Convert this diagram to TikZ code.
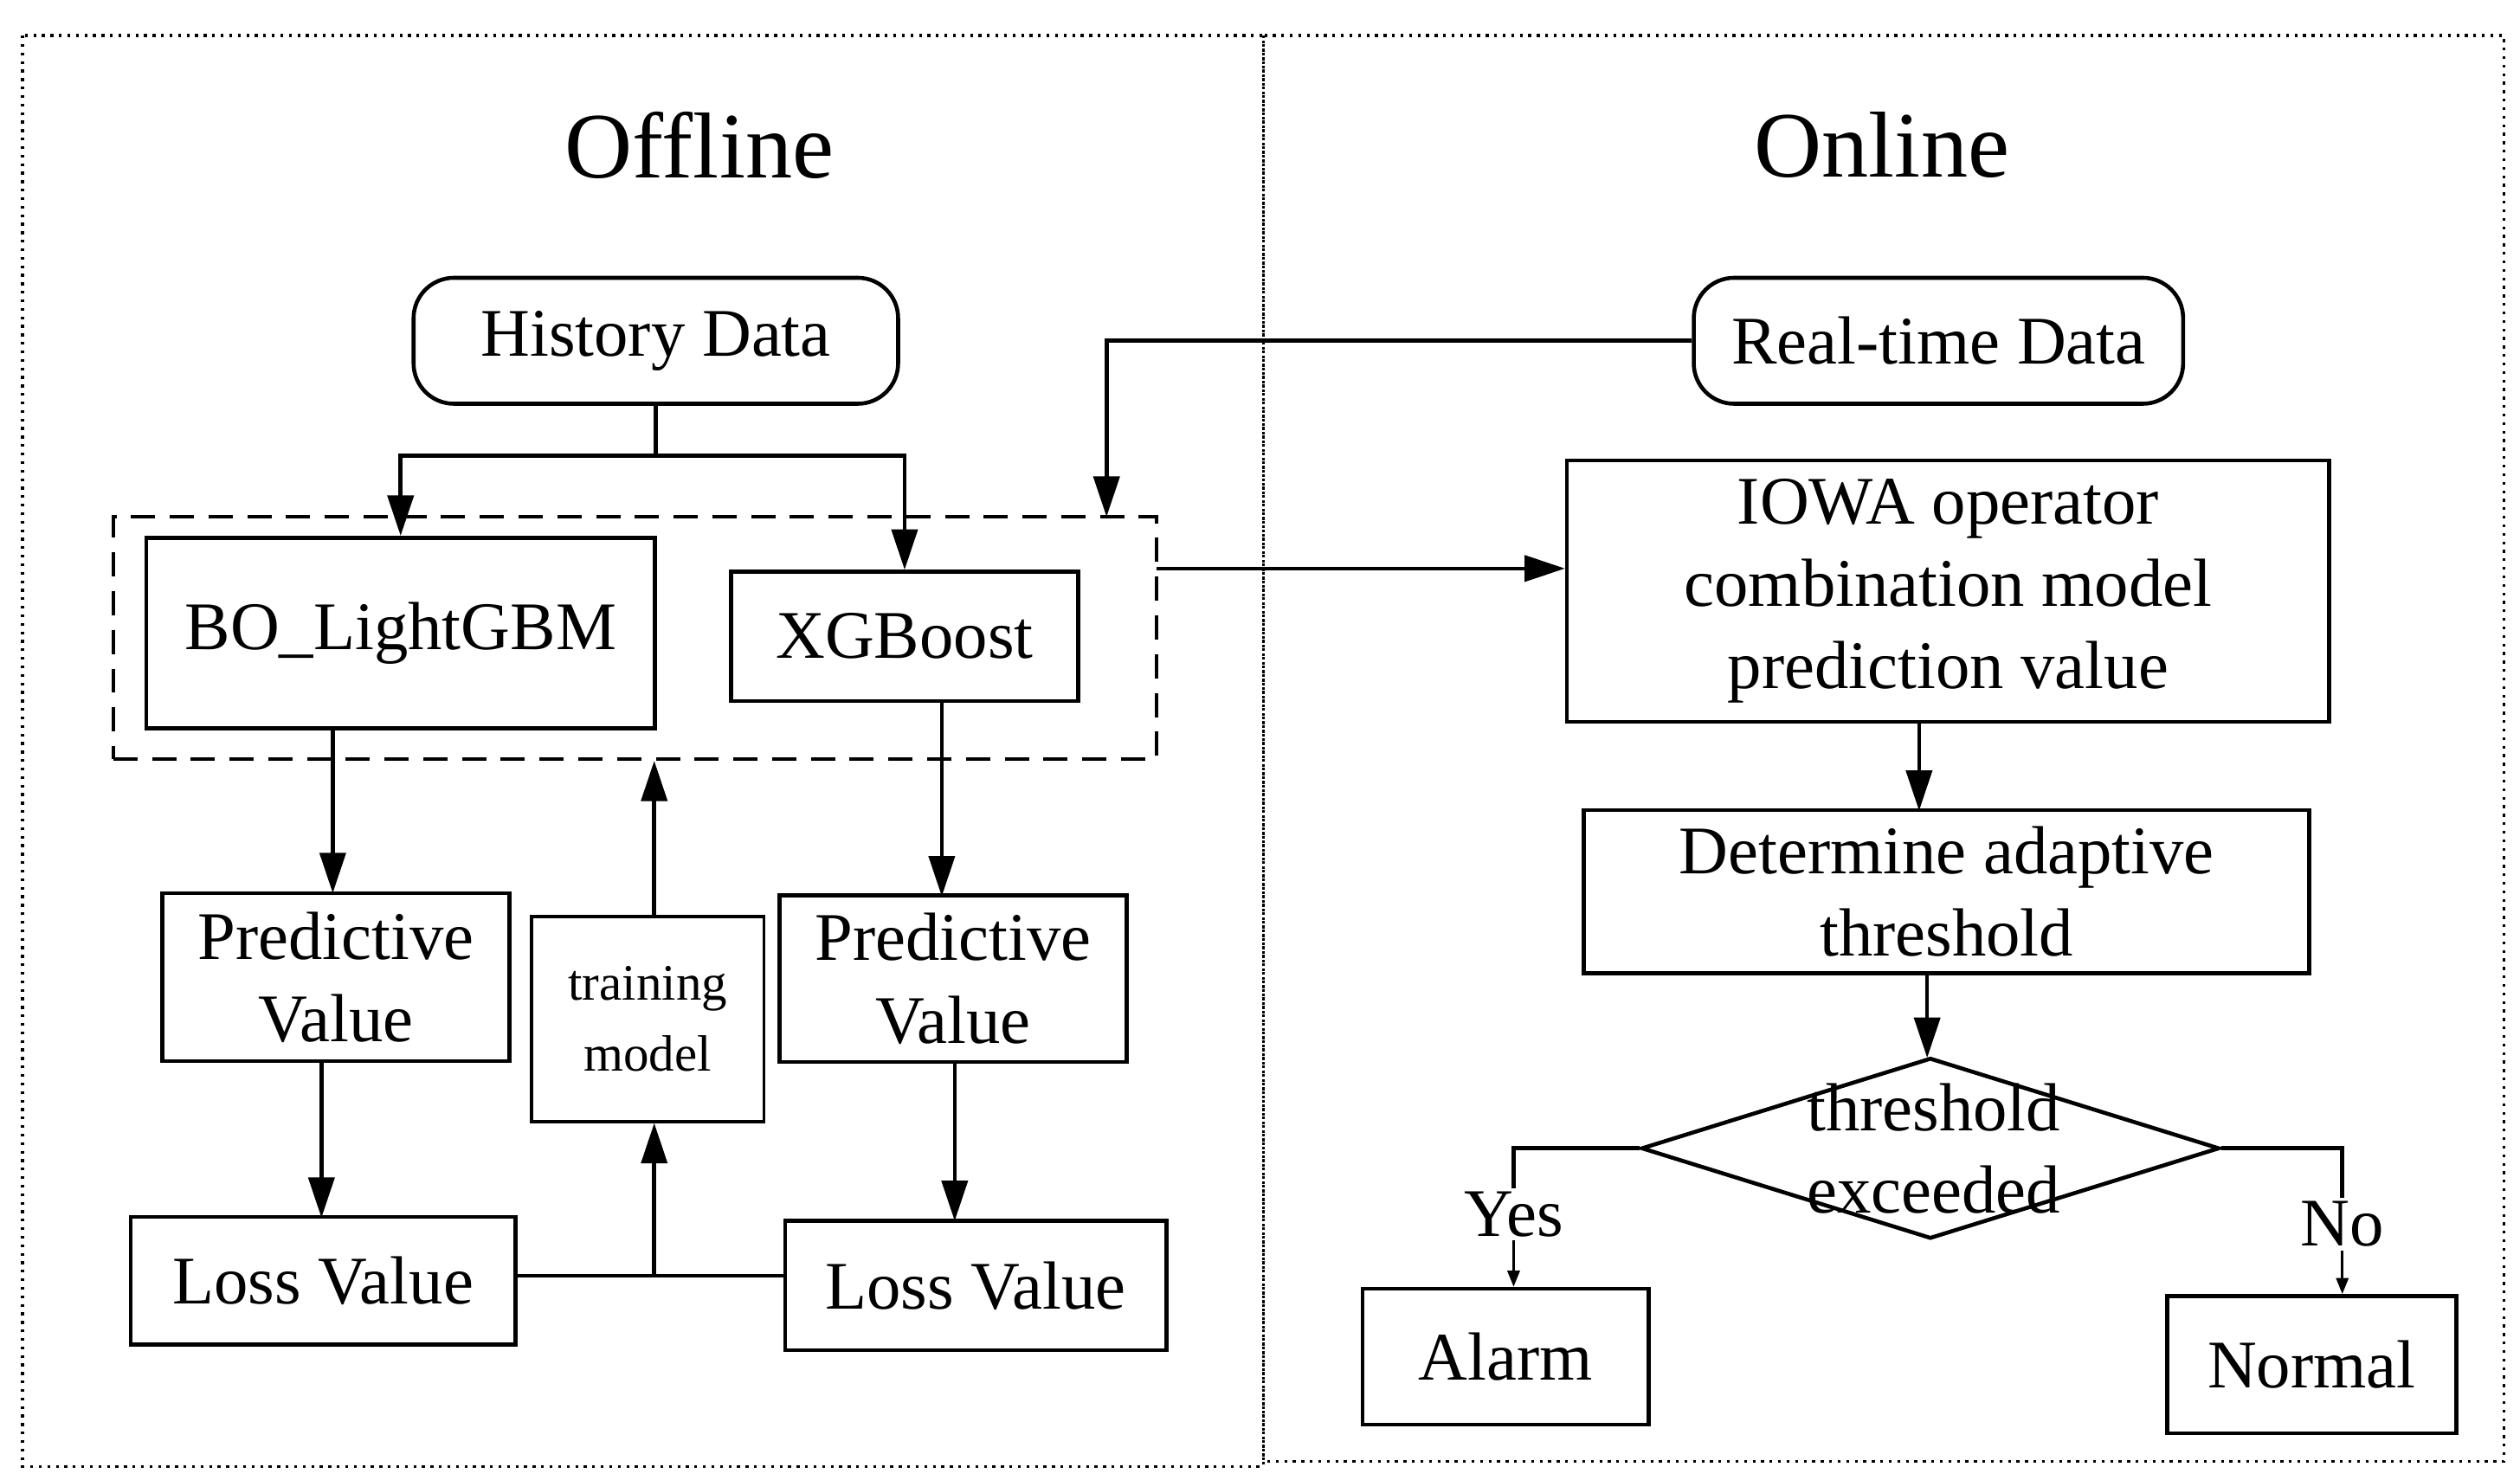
\documentclass[tikz,border=0pt]{standalone}
\usepackage{fontspec}
\setmainfont{Liberation Serif}
\usetikzlibrary{arrows.meta,shapes.geometric}
\begin{document}
\begin{tikzpicture}[x=0.02cm,y=-0.02cm,
  box/.style={draw,line width=1.4pt,inner sep=0pt,align=center,font=\fontsize{24}{29}\selectfont},
  rbox/.style={box,rounded corners=0.5cm},
  arr/.style={line width=1.4pt,-{Triangle[length=0.5cm,width=0.32cm]}},
  sarr/.style={line width=1pt,-{Triangle[length=0.2cm,width=0.15cm]}},
  ln/.style={line width=1.4pt}]
\useasboundingbox (0,0) rectangle (1560,916);
\draw[dotted,line width=1pt] (14,22) rectangle (782,908);
\draw[dotted,line width=1pt] (782,22) rectangle (1550,905);
\node[font=\fontsize{33}{40}\selectfont] (off) at (433,90) {Offline};
\node[font=\fontsize{33}{40}\selectfont] (on) at (1165,90) {Online};
\node[rbox,minimum width=6cm,minimum height=1.56cm] (hist) at (406,211) {History Data};
\node[rbox,minimum width=6.06cm,minimum height=1.56cm] (rt) at (1200,211) {Real-time Data};
\node[draw,dash pattern=on 0.3cm off 0.18cm,line width=1.2pt,minimum width=12.92cm,minimum height=3cm,inner sep=0pt] (dash) at (393,395) {};
\node[box,minimum width=6.3cm,minimum height=2.36cm] (bo) at (248,392) {BO\_LightGBM};
\node[box,minimum width=4.3cm,minimum height=1.6cm] (xg) at (560,394) {XGBoost};
\node[box,minimum width=4.3cm,minimum height=2.08cm] (pv1) at (208,605) {Predictive\\Value};
\node[box,minimum width=4.3cm,minimum height=2.06cm] (pv2) at (590,606) {Predictive\\Value};
\node[box,minimum width=4.76cm,minimum height=1.58cm] (lv1) at (200,793) {Loss Value};
\node[box,minimum width=4.72cm,minimum height=1.6cm] (lv2) at (604,796) {Loss Value};
\node[box,line width=1pt,minimum width=2.88cm,minimum height=2.54cm,font=\fontsize{18}{25}\selectfont] (tm) at (401,631) {training\\model};
\node[box,minimum width=9.44cm,minimum height=3.24cm] (iowa) at (1206,366) {IOWA operator\\combination model\\prediction value};
\node[box,minimum width=8.98cm,minimum height=2.02cm] (det) at (1205,552) {Determine adaptive\\threshold};
\node[diamond,draw,line width=1.4pt,aspect=3.2,minimum width=7.16cm,minimum height=2.24cm,inner sep=0pt] (dia) at (1195,711) {};
\node[align=center,font=\fontsize{24}{29}\selectfont] (diat) at (1197,711) {threshold\\exceeded};
\node[box,minimum width=3.54cm,minimum height=1.68cm] (al) at (932,840) {Alarm};
\node[box,minimum width=3.58cm,minimum height=1.7cm] (nm) at (1431,845) {Normal};
% connectors
\draw[ln] (hist.south) -- (406,282) coordinate (hj);
\draw[arr] (hj) -| (bo.north);
\draw[arr] (hj) -| (xg.north);
\draw[arr] (rt.west) -| (685,320) coordinate (dt);
\draw[arr] (716,352) coordinate (dr) -- (iowa.west |- dr);
\draw[arr] (206,451) -- (206,553);
\draw[arr] (583,434) -- (583,555);
\draw[arr] (199,657) -- (199,754);
\draw[arr] (591,658) -- (591,756);
\coordinate (lj) at (405,790);
\draw[ln] (lv1.east |- lj) -- (lv2.west |- lj);
\draw[arr] (lj) -- (tm.south -| lj);
\draw[arr] (tm.north -| lj) -- (dash.south -| lj);
\draw[arr] (1188,447) -- (1188,502);
\draw[arr] (1193,603) -- (1193,655);
\node[font=\fontsize{24}{29}\selectfont,fill=white,inner sep=1pt] (yes) at (937,752) {Yes};
\node[font=\fontsize{24}{29}\selectfont,fill=white,inner sep=1pt] (no) at (1450,758) {No};
\draw[ln] (dia.west) -| (yes.north -| 937,0);
\draw[ln] (dia.east) -| (no.north -| 1450,0);
\draw[sarr] (yes.south -| 937,0) -- (al.north -| 937,0);
\draw[sarr] (no.south -| 1450,0) -- (nm.north -| 1450,0);
\end{tikzpicture}
\end{document}
